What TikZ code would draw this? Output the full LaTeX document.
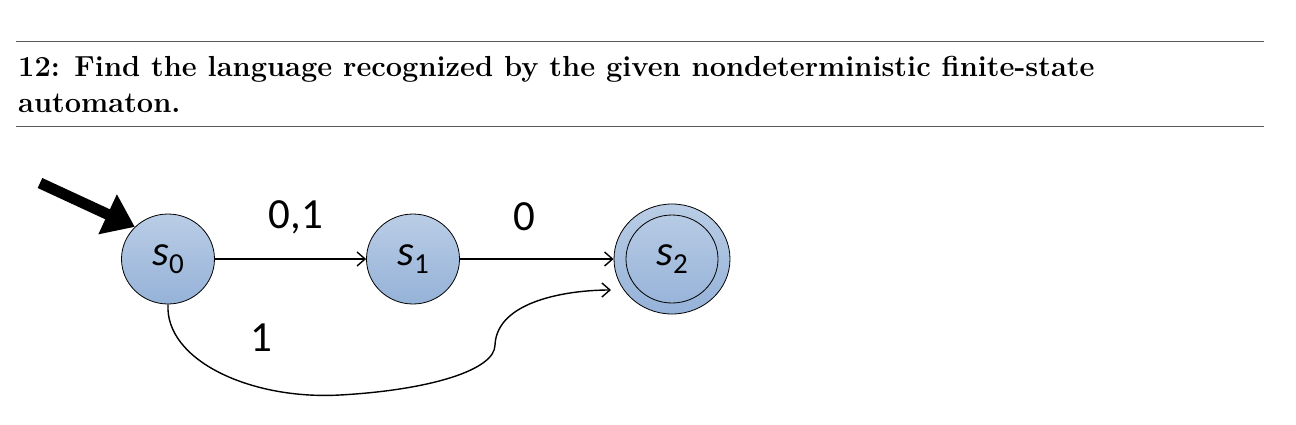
\documentclass[tikz,border=0pt]{standalone}
\usepackage{fontspec}
\usetikzlibrary{arrows.meta,shapes.geometric}
\newfontfamily\carlitofont{Carlito}
\begin{document}
\begin{tikzpicture}[x=1pt,y=-1pt,
 st/.style={ellipse,draw,line width=0.8pt,minimum width=93pt,minimum height=90pt,inner sep=0pt,top color=stTop,bottom color=stBot,font=\carlitofont\fontsize{43}{43}\selectfont\itshape},
 tr/.style={-{Straight Barb[length=8pt,width=14pt]},line width=1.4pt},
 lb/.style={font=\carlitofont\fontsize{43}{43}\selectfont}]
\definecolor{stTop}{HTML}{BACDE6}
\definecolor{stBot}{HTML}{95B2D8}
\useasboundingbox (0,0) rectangle (1296,424);
\draw[line width=1pt,gray!70!black] (16,41) -- (1264,41);
\draw[line width=1pt,gray!70!black] (16,126) -- (1264,126);
\node[anchor=north west,align=left,inner sep=0pt,font=\fontsize{29}{36}\selectfont\bfseries] (title) at (18,56) {12: Find the language recognized by the given nondeterministic finite-state\\automaton.};
\node[st] (s0) at (168,259) {s\raisebox{-0.4ex}{\fontsize{29}{29}\selectfont\upshape 0}};
\node[st] (s1) at (413,259) {s\raisebox{-0.4ex}{\fontsize{29}{29}\selectfont\upshape 1}};
\node[st,minimum width=116pt,minimum height=110pt] (s2) at (672,259) {};
\node[ellipse,draw,line width=0.8pt,minimum width=92pt,minimum height=88pt,inner sep=0pt,font=\carlitofont\fontsize{43}{43}\selectfont\itshape] (s2i) at (672,259) {s\raisebox{-0.4ex}{\fontsize{29}{29}\selectfont\upshape 2}};
\coordinate (init) at (40,183);
\draw[line width=11pt,-{Triangle[length=30pt,width=42pt]}] (init) -- (s0.north west);
\draw[tr] (s0.east) -- (s1.west);
\draw[tr] (s1.east) -- (s2.west);
\coordinate (s2in) at (611,290);
\draw[tr] (s0.south) .. controls (165,360) and (250,400) .. (340,395)
  .. controls (430,390) and (495,370) .. (495,345) .. controls (497,300) and (570,290) .. (s2in);
\node[lb] (l01) at (296,217) {0,1};
\node[lb] (l0) at (524,217) {0};
\node[lb] (l1b) at (261,338) {1};
\end{tikzpicture}
\end{document}
